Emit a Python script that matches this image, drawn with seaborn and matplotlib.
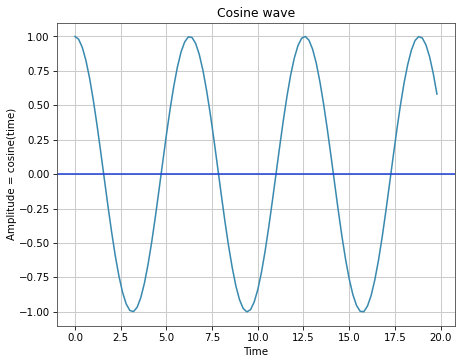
import pandas as pd
import matplotlib
matplotlib.use("Agg")
import matplotlib.pyplot as plt
import seaborn as sns

time = [
    0.0, 0.2, 0.4, 0.6, 0.8, 1.0, 1.2, 1.4, 1.6, 1.8,
    2.0, 2.2, 2.4, 2.6, 2.8, 3.0, 3.2, 3.4, 3.6, 3.8,
    4.0, 4.2, 4.4, 4.6, 4.8, 5.0, 5.2, 5.4, 5.6, 5.8,
    6.0, 6.2, 6.4, 6.6, 6.8, 7.0, 7.2, 7.4, 7.6, 7.8,
    8.0, 8.2, 8.4, 8.6, 8.8, 9.0, 9.2, 9.4, 9.6, 9.8,
    10.0, 10.2, 10.4, 10.6, 10.8, 11.0, 11.2, 11.4, 11.6, 11.8,
    12.0, 12.2, 12.4, 12.6, 12.8, 13.0, 13.2, 13.4, 13.6, 13.8,
    14.0, 14.2, 14.4, 14.6, 14.8, 15.0, 15.2, 15.4, 15.6, 15.8,
    16.0, 16.2, 16.4, 16.6, 16.8, 17.0, 17.2, 17.4, 17.6, 17.8,
    18.0, 18.2, 18.4, 18.6, 18.8, 19.0, 19.2, 19.4, 19.6, 19.8,
]

amplitude = [
    1.000, 0.980, 0.921, 0.825, 0.697, 0.540, 0.362, 0.170, -0.029, -0.227,
    -0.416, -0.589, -0.737, -0.857, -0.942, -0.990, -0.998, -0.967, -0.897, -0.791,
    -0.654, -0.490, -0.307, -0.112, 0.087, 0.284, 0.469, 0.635, 0.776, 0.886,
    0.960, 0.997, 0.993, 0.950, 0.869, 0.754, 0.608, 0.439, 0.252, 0.054,
    -0.146, -0.340, -0.519, -0.677, -0.811, -0.911, -0.975, -1.000, -0.985, -0.930,
    -0.839, -0.714, -0.560, -0.384, -0.193, 0.004, 0.202, 0.393, 0.568, 0.721,
    0.844, 0.934, 0.987, 1.000, 0.973, 0.907, 0.806, 0.670, 0.510, 0.330,
    0.137, -0.063, -0.261, -0.448, -0.616, -0.760, -0.874, -0.953, -0.996, -0.999,
    -0.958, -0.882, -0.769, -0.628, -0.461, -0.275, -0.078, 0.121, 0.316, 0.498,
    0.660, 0.795, 0.899, 0.970, 0.999, 0.989, 0.939, 0.852, 0.731, 0.582,
]

df = pd.DataFrame({"Time": time, "Amplitude": amplitude})

fig, ax = plt.subplots(figsize=(6.4, 4.875), dpi=74.06)
fig.subplots_adjust(left=0.12, right=0.96, top=0.937, bottom=0.098)

sns.lineplot(x="Time", y="Amplitude", data=df, ax=ax, color="#3a8ab0", linewidth=1.5)
ax.axhline(y=0, color="#1f3fd6", linewidth=1.5)

ax.set_title("Cosine wave")
ax.set_xlabel("Time")
ax.set_ylabel("Amplitude = cosine(time)", labelpad=1)
ax.set_xticks([0.0, 2.5, 5.0, 7.5, 10.0, 12.5, 15.0, 17.5, 20.0])
ax.set_yticks([-1.0, -0.75, -0.5, -0.25, 0.0, 0.25, 0.5, 0.75, 1.0])
ax.grid(True, color="#cccccc", linewidth=1.0)
ax.set_axisbelow(True)
for s in ax.spines.values():
    s.set_color("#444444")

fig.savefig("out.png")
